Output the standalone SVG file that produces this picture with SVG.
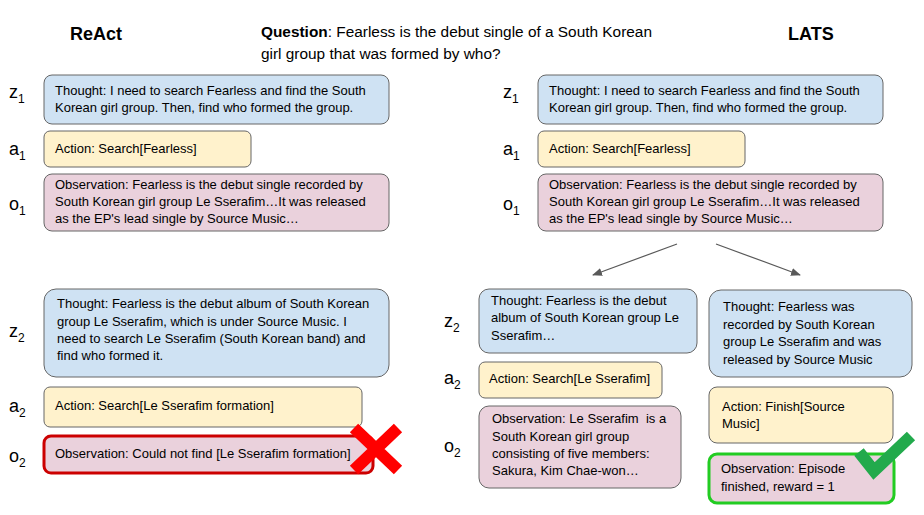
<svg xmlns="http://www.w3.org/2000/svg" width="924" height="515" viewBox="0 0 924 515">
<defs>
<style>
text{font-family:"Liberation Sans",Arial,sans-serif;fill:#000}
.t{font-size:13px}
.lbl{font-size:18px}
.sub{font-size:12px}
.hd{font-size:18px;font-weight:bold}
.q{font-size:15.4px}
.blue{fill:#cfe2f3;stroke:#666;stroke-width:1}
.yel{fill:#fff2cc;stroke:#666;stroke-width:1}
.pink{fill:#ead1dc;stroke:#666;stroke-width:1}
.bad{fill:#ead1dc;stroke:#cc0000;stroke-width:3}
.good{fill:#ead1dc;stroke:#22cc22;stroke-width:3}
.conn{stroke:#595959;stroke-width:1.2;fill:none}
</style>
<marker id="ah" markerWidth="10" markerHeight="8" refX="9" refY="4" orient="auto" markerUnits="userSpaceOnUse">
<path d="M0,0 L10,4 L0,8 Z" fill="#595959"/>
</marker>
</defs>
<rect width="924" height="515" fill="#fff"/>

<g id="headers">
<text class="hd" x="70" y="40">ReAct</text>
<text class="hd" x="788" y="40">LATS</text>
<text class="q" x="261" y="37"><tspan font-weight="bold">Question</tspan>: Fearless is the debut single of a South Korean</text>
<text class="q" x="261" y="59">girl group that was formed by who?</text>
</g>

<g id="labels">
<text class="lbl" x="9" y="98">z<tspan class="sub" dy="5">1</tspan></text>
<text class="lbl" x="9" y="155">a<tspan class="sub" dy="5">1</tspan></text>
<text class="lbl" x="9" y="210">o<tspan class="sub" dy="5">1</tspan></text>
<text class="lbl" x="9" y="337">z<tspan class="sub" dy="5">2</tspan></text>
<text class="lbl" x="9" y="412">a<tspan class="sub" dy="5">2</tspan></text>
<text class="lbl" x="9" y="462">o<tspan class="sub" dy="5">2</tspan></text>
<text class="lbl" x="503" y="98">z<tspan class="sub" dy="5">1</tspan></text>
<text class="lbl" x="503" y="155">a<tspan class="sub" dy="5">1</tspan></text>
<text class="lbl" x="503" y="210">o<tspan class="sub" dy="5">1</tspan></text>
<text class="lbl" x="444" y="327">z<tspan class="sub" dy="5">2</tspan></text>
<text class="lbl" x="444" y="384">a<tspan class="sub" dy="5">2</tspan></text>
<text class="lbl" x="444" y="452">o<tspan class="sub" dy="5">2</tspan></text>
</g>

<g id="react-z1">
<rect class="blue" x="44" y="75" width="345" height="49" rx="8"/>
<text class="t" x="55" y="95">Thought: I need to search Fearless and find the South</text>
<text class="t" x="55" y="112">Korean girl group. Then, find who formed the group.</text>
</g>
<g id="react-a1">
<rect class="yel" x="44" y="131" width="207" height="36" rx="6"/>
<text class="t" x="55" y="153">Action: Search[Fearless]</text>
</g>
<g id="react-o1">
<rect class="pink" x="44" y="174" width="345" height="57" rx="8"/>
<text class="t" x="55" y="189">Observation: Fearless is the debut single recorded by</text>
<text class="t" x="55" y="206">South Korean girl group Le Sserafim…It was released</text>
<text class="t" x="55" y="223">as the EP's lead single by Source Music…</text>
</g>
<g id="react-z2">
<rect class="blue" x="44" y="289" width="345" height="88" rx="12"/>
<text class="t" x="57" y="308">Thought: Fearless is the debut album of South Korean</text>
<text class="t" x="57" y="326">group Le Sserafim, which is under Source Music. I</text>
<text class="t" x="57" y="343">need to search Le Sserafim (South Korean band) and</text>
<text class="t" x="57" y="360">find who formed it.</text>
</g>
<g id="react-a2">
<rect class="yel" x="44" y="387" width="318" height="40" rx="6"/>
<text class="t" x="55" y="410">Action: Search[Le Sserafim formation]</text>
</g>
<g id="react-o2">
<rect class="bad" x="44" y="436" width="329" height="37" rx="7"/>
<text class="t" x="55" y="458">Observation: Could not find [Le Sserafim formation]</text>
</g>
<g id="cross">
<path d="M354,428 L398,470 M398,428 L354,470" stroke="#ff0000" stroke-width="12" fill="none"/>
</g>

<g id="lats-z1">
<rect class="blue" x="538" y="75" width="345" height="49" rx="8"/>
<text class="t" x="549" y="95">Thought: I need to search Fearless and find the South</text>
<text class="t" x="549" y="112">Korean girl group. Then, find who formed the group.</text>
</g>
<g id="lats-a1">
<rect class="yel" x="538" y="131" width="207" height="36" rx="6"/>
<text class="t" x="549" y="153">Action: Search[Fearless]</text>
</g>
<g id="lats-o1">
<rect class="pink" x="538" y="174" width="345" height="57" rx="8"/>
<text class="t" x="549" y="189">Observation: Fearless is the debut single recorded by</text>
<text class="t" x="549" y="206">South Korean girl group Le Sserafim…It was released</text>
<text class="t" x="549" y="223">as the EP's lead single by Source Music…</text>
</g>

<g id="connectors">
<line class="conn" x1="677" y1="244" x2="593" y2="275" marker-end="url(#ah)"/>
<line class="conn" x1="716" y1="244" x2="800" y2="275" marker-end="url(#ah)"/>
</g>

<g id="lats-z2a">
<rect class="blue" x="479" y="289" width="218" height="64" rx="10"/>
<text class="t" x="491" y="305">Thought: Fearless is the debut</text>
<text class="t" x="491" y="322">album of South Korean group Le</text>
<text class="t" x="491" y="340">Sserafim…</text>
</g>
<g id="lats-a2a">
<rect class="yel" x="479" y="362" width="183" height="36" rx="6"/>
<text class="t" x="489" y="383">Action: Search[Le Sserafim]</text>
</g>
<g id="lats-o2a">
<rect class="pink" x="479" y="406" width="202" height="82" rx="10"/>
<text class="t" x="492" y="423" xml:space="preserve">Observation: Le Sserafim  is a</text>
<text class="t" x="492" y="441">South Korean girl group</text>
<text class="t" x="492" y="458">consisting of five members:</text>
<text class="t" x="492" y="475">Sakura, Kim Chae-won…</text>
</g>
<g id="lats-z2b">
<rect class="blue" x="709" y="290" width="203" height="87" rx="12"/>
<text class="t" x="723" y="311">Thought: Fearless was</text>
<text class="t" x="723" y="329">recorded by South Korean</text>
<text class="t" x="723" y="346">group Le Sserafim and was</text>
<text class="t" x="723" y="364">released by Source Music</text>
</g>
<g id="lats-a2b">
<rect class="yel" x="709" y="387" width="184" height="56" rx="8"/>
<text class="t" x="722" y="411">Action: Finish[Source</text>
<text class="t" x="722" y="428">Music]</text>
</g>
<g id="lats-o2b">
<rect class="good" x="709" y="454" width="185" height="49" rx="8"/>
<text class="t" x="721" y="473">Observation: Episode</text>
<text class="t" x="721" y="491">finished, reward = 1</text>
</g>
<g id="check">
<polyline points="859,452 874,471 911,436" stroke="#22aa4c" stroke-width="12" fill="none" stroke-linejoin="miter"/>
</g>
</svg>
